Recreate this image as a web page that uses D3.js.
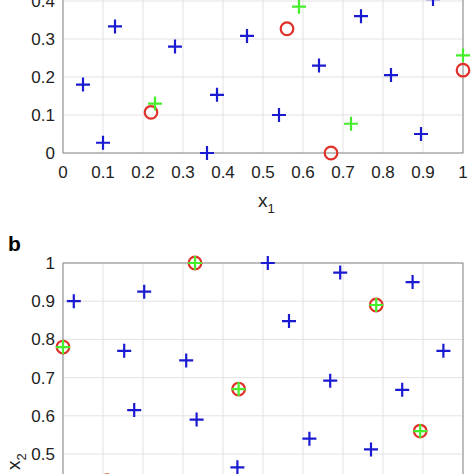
<!DOCTYPE html>
<html><head><meta charset="utf-8">
<script src="https://cdn.jsdelivr.net/npm/d3@7"></script>
<style>body{margin:0;background:#fff}text{font-family:"Liberation Sans",Arial,sans-serif}</style>
</head><body>
<svg id="c" width="474" height="474"></svg>
<script>
// panel a (top): [x, y]
const aBlue = [[0.05,0.18],[0.10,0.027],[0.13,0.333],[0.28,0.28],[0.36,0],[0.385,0.153],[0.46,0.308],[0.54,0.10],[0.64,0.23],[0.745,0.36],[0.82,0.205],[0.895,0.05],[0.925,0.405]];
const aGreen = [[0.23,0.13],[0.59,0.385],[0.72,0.077],[1.0,0.257]];
const aRed = [[0.22,0.107],[0.56,0.327],[0.67,0],[1.0,0.218]];
// panel b (bottom)
const bBlue = [[0.027,0.90],[0.203,0.925],[0.153,0.77],[0.178,0.615],[0.308,0.745],[0.334,0.59],[0.436,0.465],[0.512,1.0],[0.565,0.848],[0.616,0.54],[0.668,0.692],[0.693,0.975],[0.77,0.512],[0.848,0.668],[0.874,0.95],[0.951,0.77]];
const bBoth = [[0,0.78],[0.33,1.0],[0.439,0.67],[0.783,0.89],[0.893,0.56],[0.11,0.43]];
const ticks = d3.range(0, 1.01, 0.1);

const svg = d3.select('#c');
const x = d3.scaleLinear().domain([0,1]).range([63,463]);

function panel(y, yTicks, top, bottom, blue, green, red) {
  const g = svg.append('g');
  // grid
  g.selectAll('.vg').data(ticks).join('line')
    .attr('x1', d => x(d)).attr('x2', d => x(d)).attr('y1', top).attr('y2', bottom)
    .attr('stroke', '#e3e3e3').attr('stroke-width', 1);
  g.selectAll('.hg').data(ticks).join('line')
    .attr('x1', x(0)).attr('x2', x(1)).attr('y1', d => y(d)).attr('y2', d => y(d))
    .attr('stroke', '#e3e3e3').attr('stroke-width', 1);
  g.append('rect').attr('x', x(0)).attr('y', top).attr('width', x(1)-x(0)).attr('height', bottom-top)
    .attr('fill', 'none').attr('stroke', '#8a8a8a').attr('stroke-width', 1);
  g.selectAll('.yt').data(yTicks).join('text')
    .attr('x', x(0)-8).attr('y', d => y(d)+6).attr('text-anchor', 'end')
    .attr('font-size', 17).attr('fill', '#222').text(d => d3.format('~g')(d));
  const plus = (data, col) => g.selectAll(null).data(data).join('path')
    .attr('d', d => `M${x(d[0])-7},${y(d[1])}h14M${x(d[0])},${y(d[1])-7}v14`)
    .attr('stroke', col).attr('stroke-width', 2.2);
  g.selectAll(null).data(red).join('circle')
    .attr('cx', d => x(d[0])).attr('cy', d => y(d[1])).attr('r', 6.3)
    .attr('fill', 'none').attr('stroke', '#e0302a').attr('stroke-width', 2.2);
  plus(blue, '#1a1ad0');
  plus(green, '#44ee2a');
  return g;
}

// top panel
const yA = d3.scaleLinear().domain([0,1]).range([153,-227]);
const gA = panel(yA, [0,0.1,0.2,0.3,0.4], -227, 153, aBlue, aGreen, aRed);
gA.selectAll('.xt').data(ticks).join('text')
  .attr('x', d => x(d)).attr('y', 178).attr('text-anchor', 'middle')
  .attr('font-size', 17).attr('fill', '#222').text(d => d3.format('~g')(d));
const xl = svg.append('text').attr('x', 258).attr('y', 207).attr('font-size', 19).attr('fill', '#222');
xl.append('tspan').text('x');
xl.append('tspan').attr('font-size', 13).attr('dy', 6).text('1');

// bottom panel
const yB = d3.scaleLinear().domain([0,1]).range([645,263]);
panel(yB, [0.5,0.6,0.7,0.8,0.9,1], 263, 645, bBlue, bBoth, bBoth);

svg.append('text').attr('x', 8).attr('y', 251).attr('font-size', 21).attr('font-weight', 'bold').text('b');
const yl = svg.append('text').attr('transform', 'translate(20,470) rotate(-90)').attr('font-size', 19).attr('fill', '#222');
yl.append('tspan').text('x');
yl.append('tspan').attr('font-size', 13).attr('dy', 6).text('2');
</script>
</body></html>
